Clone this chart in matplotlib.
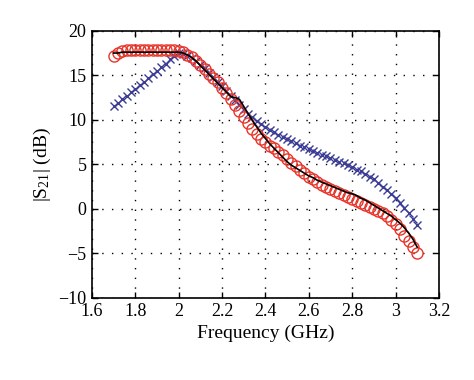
import numpy as np
import matplotlib
matplotlib.use("Agg")
import matplotlib.pyplot as plt

plt.rcParams['font.family'] = ['Liberation Serif', 'DejaVu Serif']
plt.rcParams['mathtext.fontset'] = 'custom'
plt.rcParams['mathtext.rm'] = 'Liberation Serif'
plt.rcParams['mathtext.it'] = 'Liberation Serif:italic'

# frequency grid (GHz), 0.02 GHz step from 1.7 to 3.1
freq = np.round(np.arange(1.70, 3.1001, 0.02), 2)

# red circles
s21_circles = [
    17.2, 17.5, 17.7, 17.8, 17.8, 17.8, 17.8, 17.8, 17.8, 17.8,
    17.8, 17.8, 17.8, 17.8, 17.8, 17.7, 17.6, 17.3, 17.0, 16.6,
    16.2, 15.7, 15.2, 14.7, 14.2, 13.6, 13.0, 12.3, 11.7, 11.0,
    10.3, 9.6, 9.0, 8.4, 7.9, 7.5, 7.1, 6.8, 6.4, 6.0,
    5.6, 5.2, 4.8, 4.4, 4.0, 3.6, 3.3, 3.0, 2.7, 2.5,
    2.2, 2.0, 1.8, 1.6, 1.3, 1.1, 0.9, 0.7, 0.4, 0.2,
    0.0, -0.2, -0.5, -0.8, -1.2, -1.7, -2.3, -3.0, -3.6, -4.3,
    -5.0,
]

# black solid line
s21_line = [
    17.5, 17.5, 17.6, 17.6, 17.6, 17.6, 17.6, 17.6, 17.6, 17.6,
    17.6, 17.6, 17.6, 17.6, 17.6, 17.6, 17.5, 17.3, 17.0, 16.6,
    16.1, 15.6, 15.1, 14.6, 14.1, 13.6, 13.1, 12.6, 12.5, 12.3,
    11.5, 10.7, 9.9, 9.2, 8.5, 7.9, 7.3, 6.8, 6.3, 5.8,
    5.3, 4.9, 4.6, 4.3, 4.0, 3.7, 3.5, 3.2, 3.0, 2.8,
    2.6, 2.4, 2.2, 2.0, 1.8, 1.7, 1.5, 1.2, 1.0, 0.7,
    0.4, 0.1, -0.2, -0.5, -0.8, -1.2, -1.6, -2.1, -2.7, -3.4,
    -4.3,
]

# blue crosses
s21_crosses = [
    11.5, 11.9, 12.3, 12.7, 13.1, 13.5, 13.9, 14.3, 14.7, 15.1,
    15.5, 15.9, 16.3, 16.8, 17.2, 17.5, 17.4, 17.2, 16.9, 16.6,
    16.2, 15.8, 15.3, 14.8, 14.3, 13.8, 13.2, 12.7, 12.2, 11.7,
    11.2, 10.7, 10.3, 9.9, 9.5, 9.2, 8.9, 8.6, 8.3, 8.1,
    7.8, 7.6, 7.4, 7.1, 6.9, 6.7, 6.5, 6.3, 6.1, 5.9,
    5.7, 5.5, 5.3, 5.1, 4.9, 4.7, 4.4, 4.2, 3.9, 3.6,
    3.3, 2.9, 2.5, 2.1, 1.7, 1.2, 0.7, 0.1, -0.5, -1.1,
    -1.8,
]

xticks = [1.6, 1.8, 2.0, 2.2, 2.4, 2.6, 2.8, 3.0, 3.2]
xticklabels = ['1.6', '1.8', '2', '2.2', '2.4', '2.6', '2.8', '3', '3.2']
yticks = [-10, -5, 0, 5, 10, 15, 20]

fig = plt.figure(figsize=(4.74, 3.80), dpi=100)
ax = fig.add_axes([0.194, 0.216, 0.732, 0.703])

ax.plot(freq, s21_crosses, linestyle='none', marker='x', color='#3c3c96',
        markersize=5.5, markeredgewidth=1.0)
ax.plot(freq, s21_circles, linestyle='none', marker='o', markerfacecolor='none',
        markeredgecolor='#e8352b', markersize=8, markeredgewidth=1.0)
ax.plot(freq, s21_line, color='black', linewidth=1.2)

ax.set_xlim(1.6, 3.2)
ax.set_ylim(-10, 20)
ax.set_xticks(xticks)
ax.set_xticklabels(xticklabels)
ax.set_yticks(yticks)
ax.set_yticklabels([str(v).replace('-', '\u2212') for v in yticks])
ax.grid(True, color='black', linestyle=(0, (1, 6)), linewidth=1.0)
ax.tick_params(direction='in', top=True, right=True, length=4, width=1,
               labelsize=13, pad=4)
for sp in ax.spines.values():
    sp.set_linewidth(1.2)

ax.set_xlabel('Frequency (GHz)', fontsize=14, labelpad=3)
ax.set_ylabel(r'$|\mathrm{S}_{21}|$ (dB)', fontsize=14, labelpad=4)

fig.savefig('out.png', dpi=100)
